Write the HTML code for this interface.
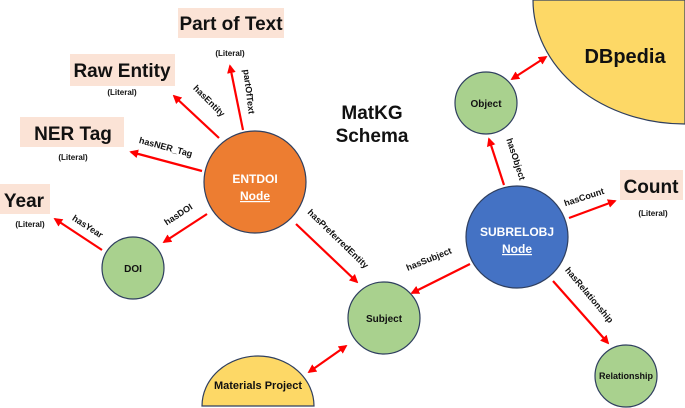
<!DOCTYPE html>
<html><head><meta charset="utf-8"><style>
html,body{margin:0;background:#fff;width:685px;height:408px;overflow:hidden;}
svg{display:block;font-family:"Liberation Sans",Arial,sans-serif;font-weight:bold;}
</style></head><body>
<svg width="685" height="408" viewBox="0 0 685 408" xmlns="http://www.w3.org/2000/svg">
<defs>
<marker id="a" viewBox="0 0 10 10" refX="8" refY="5" markerWidth="4" markerHeight="4" orient="auto-start-reverse"><path d="M0,0L10,5L0,10z" fill="#f00"/></marker>
</defs>
<path d="M533,0 A152,124 0 0 0 685,124 L685,0 Z" fill="#fdd866" stroke="#2f3f5f" stroke-width="1.2"/>
<text x="625" y="63" font-size="20" text-anchor="middle" fill="#111">DBpedia</text>
<path d="M202,406 A56,50 0 0 1 314,406 Z" fill="#fdd866" stroke="#2f3f5f" stroke-width="1.2"/>
<text x="258" y="389" font-size="11" text-anchor="middle" fill="#111">Materials Project</text>

<rect x="178" y="8" width="106" height="30" fill="#fbe3d6"/>
<text x="231" y="30" font-size="19" text-anchor="middle" fill="#111">Part of Text</text>
<text x="230" y="56" font-size="8" text-anchor="middle" fill="#111">(Literal)</text>
<rect x="70" y="54" width="105" height="32" fill="#fbe3d6"/>
<text x="122" y="77" font-size="19" text-anchor="middle" fill="#111">Raw Entity</text>
<text x="122" y="95" font-size="8" text-anchor="middle" fill="#111">(Literal)</text>
<rect x="20" y="117" width="104" height="30" fill="#fbe3d6"/>
<text x="73" y="140" font-size="19" text-anchor="middle" fill="#111">NER Tag</text>
<text x="73" y="160" font-size="8" text-anchor="middle" fill="#111">(Literal)</text>
<rect x="0" y="184" width="50" height="30" fill="#fbe3d6"/>
<text x="24" y="207" font-size="19" text-anchor="middle" fill="#111">Year</text>
<text x="30" y="227" font-size="8" text-anchor="middle" fill="#111">(Literal)</text>
<rect x="620" y="170" width="63" height="30" fill="#fbe3d6"/>
<text x="651" y="193" font-size="19" text-anchor="middle" fill="#111">Count</text>
<text x="653" y="216" font-size="8" text-anchor="middle" fill="#111">(Literal)</text>

<text x="372" y="119" font-size="19" text-anchor="middle" fill="#111">MatKG</text>
<text x="372" y="142" font-size="19" text-anchor="middle" fill="#111">Schema</text>

<g stroke="#f00" stroke-width="2.2" fill="none">
<line x1="243" y1="130" x2="230" y2="66" marker-end="url(#a)"/>
<line x1="219" y1="138" x2="174" y2="96" marker-end="url(#a)"/>
<line x1="202" y1="171" x2="131" y2="152" marker-end="url(#a)"/>
<line x1="207" y1="214" x2="164" y2="242" marker-end="url(#a)"/>
<line x1="102" y1="250" x2="55" y2="219" marker-end="url(#a)"/>
<line x1="296" y1="224" x2="357" y2="282" marker-end="url(#a)"/>
<line x1="470" y1="264" x2="412" y2="293" marker-end="url(#a)"/>
<line x1="504" y1="185" x2="489" y2="139" marker-end="url(#a)"/>
<line x1="569" y1="218" x2="615" y2="201" marker-end="url(#a)"/>
<line x1="553" y1="281" x2="608" y2="343" marker-end="url(#a)"/>
<line x1="512" y1="79" x2="546" y2="57" marker-start="url(#a)" marker-end="url(#a)"/>
<line x1="309" y1="372" x2="346" y2="346" marker-start="url(#a)" marker-end="url(#a)"/>
</g>

<g font-size="9" fill="#111">
<text transform="translate(246,92) rotate(83)" text-anchor="middle">partOfText</text>
<text transform="translate(207,103) rotate(45)" text-anchor="middle">hasEntity</text>
<text transform="translate(165,150) rotate(15)" text-anchor="middle">hasNER_Tag</text>
<text transform="translate(180,217) rotate(-33)" text-anchor="middle">hasDOI</text>
<text transform="translate(86,229) rotate(33)" text-anchor="middle">hasYear</text>
<text transform="translate(336,241) rotate(44)" text-anchor="middle">hasPreferredEntity</text>
<text transform="translate(430,262) rotate(-22)" text-anchor="middle">hasSubject</text>
<text transform="translate(513,160) rotate(72)" text-anchor="middle">hasObject</text>
<text transform="translate(585,200) rotate(-18)" text-anchor="middle">hasCount</text>
<text transform="translate(587,297) rotate(50)" text-anchor="middle">hasRelationship</text>
</g>

<circle cx="255" cy="182" r="51" fill="#ed7d31" stroke="#2f3f5f" stroke-width="1.2"/>
<text x="255" y="183" font-size="12" text-anchor="middle" fill="#fff">ENTDOI</text>
<text x="255" y="200" font-size="12" text-anchor="middle" fill="#fff" text-decoration="underline">Node</text>
<circle cx="517" cy="237" r="51" fill="#4472c4" stroke="#2f3f5f" stroke-width="1.2"/>
<text x="517" y="236" font-size="12" text-anchor="middle" fill="#fff">SUBRELOBJ</text>
<text x="517" y="253" font-size="12" text-anchor="middle" fill="#fff" text-decoration="underline">Node</text>
<g fill="#a9d18e" stroke="#2f3f5f" stroke-width="1.2">
<circle cx="133" cy="268" r="31"/>
<circle cx="486" cy="103" r="31"/>
<circle cx="384" cy="318" r="36"/>
<circle cx="626" cy="376" r="31"/>
</g>
<g font-size="10" fill="#111" text-anchor="middle">
<text x="133" y="272">DOI</text>
<text x="486" y="107">Object</text>
<text x="384" y="322">Subject</text>
<text x="626" y="379" font-size="9">Relationship</text>
</g>
</svg>
</body></html>
